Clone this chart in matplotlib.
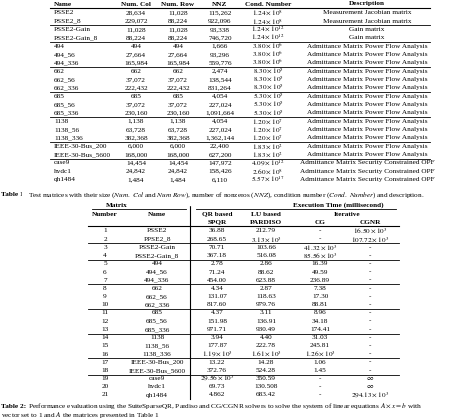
import matplotlib
matplotlib.use("Agg")
import matplotlib.pyplot as plt

plt.rcParams['font.family'] = ['Liberation Serif', 'DejaVu Serif']
plt.rcParams['mathtext.fontset'] = 'stix'

# ---- Table 1 data
names = ["PSSE2", "PSSE2_8", "PSSE2-Gain", "PSSE2-Gain_8", "494", "494_56", "494_336",
         "662", "662_56", "662_336", "685", "685_56", "685_336", "1138", "1138_56", "1138_336",
         "IEEE-30-Bus_200", "IEEE-30-Bus_5600", "case9", "hvdc1", "qh1484"]
num_col = ["28,634", "229,072", "11,028", "88,224", "494", "27,664", "165,984", "662", "37,072",
           "222,432", "685", "37,072", "230,160", "1,138", "63,728", "382,368", "6,000", "168,000",
           "14,454", "24,842", "1,484"]
num_row = ["11,028", "88,224", "11,028", "88,224", "494", "27,664", "165,984", "662", "37,072",
           "222,432", "685", "37,072", "230,160", "1,138", "63,728", "382,368", "6,000", "168,000",
           "14,454", "24,842", "1,484"]
nnz = ["115,262", "922,096", "93,338", "746,720", "1,666", "93,296", "559,776", "2,474", "138,544",
       "831,264", "4,054", "227,024", "1,091,664", "4,054", "227,024", "1,362,144", "22,400",
       "627,200", "147,972", "158,426", "6,110"]
cond = [r"1.24 \times 10^{8}", r"1.24 \times 10^{8}", r"1.24 \times 10^{12}", r"1.24 \times 10^{12}",
        r"3.80 \times 10^{6}", r"3.80 \times 10^{6}", r"3.80 \times 10^{6}",
        r"8.30 \times 10^{5}", r"8.30 \times 10^{5}", r"8.30 \times 10^{5}",
        r"5.30 \times 10^{5}", r"5.30 \times 10^{5}", r"5.30 \times 10^{5}",
        r"1.20 \times 10^{7}", r"1.20 \times 10^{7}", r"1.20 \times 10^{7}",
        r"1.83 \times 10^{2}", r"1.83 \times 10^{2}",
        r"4.09 \times 10^{12}", r"2.60 \times 10^{8}", r"5.57 \times 10^{17}"]
desc = (["Measurement Jacobian matrix"] * 2 + ["Gain matrix"] * 2
        + ["Admittance Matrix Power Flow Analysis"] * 14
        + ["Admittance Matrix Security Constrained OPF"] * 3)
groups = [2, 2, 3, 3, 3, 3, 2, 3]

# ---- Table 2 data
names2 = ["PSSE2", "PPSE2_8"] + names[2:]
spqr = ["36.88", "268.65", "70.71", "367.18", "2.78", "71.24", "454.00", "4.34", "131.07", "817.60",
        "4.37", "151.98", "971.71", "3.94", "177.87", r"$1.19 \times 10^{3}$", "13.22", "372.76",
        r"$29.56 \times 10^{3}$", "69.73", "4.862"]
pardiso = ["212.79", r"$3.13 \times 10^{3}$", "103.66", "516.08", "2.86", "88.62", "623.88", "2.87",
           "118.63", "979.76", "3.11", "136.91", "930.49", "4.40", "222.78", r"$1.61 \times 10^{3}$",
           "14.28", "524.28", "350.59", "130.508", "683.42"]
cg = ["-", "-", r"$41.32 \times 10^{3}$", r"$85.56 \times 10^{3}$", "16.39", "49.59", "236.89", "7.38",
      "17.30", "88.81", "8.96", "34.18", "174.41", "31.03", "245.81", r"$1.26 \times 10^{3}$", "1.06",
      "1.45", "-", "-", "-"]
cgnr = [r"$16.50 \times 10^{3}$", r"$107.72 \times 10^{3}$"] + ["-"] * 16 + \
       [r"$\infty$", r"$\infty$", r"$294.13 \times 10^{3}$"]

fig = plt.figure(figsize=(4.74, 4.18), dpi=100)
ax = fig.add_axes([0, 0, 1, 1])
ax.set_xlim(0, 474)
ax.set_ylim(418, 0)
ax.axis('off')
fs = 5.2


def t(x, y, s, ha='center', **kw):
    ax.text(x, y, s, ha=ha, va='center', fontsize=fs, **kw)


def hline(y, x0, x1, lw=0.8):
    ax.plot([x0, x1], [y, y], color='k', lw=lw)


# ---- Table 1
x0, x1 = 50, 430
for x, s, ha in [(54, "Name", 'left'), (136, "Num. Col", 'center'), (178, "Num. Row", 'center'),
                 (220, "NNZ", 'center'), (268, "Cond. Number", 'center'), (367, "Description", 'center')]:
    t(x, 4, s, ha=ha, fontweight='bold')
hline(8.3, x0, x1)
y0, dy = 12.7, 8.35
for i in range(len(names)):
    y = y0 + i * dy
    t(54, y, names[i], ha='left')
    t(136, y, num_col[i])
    t(178, y, num_row[i])
    t(220, y, nnz[i])
    t(268, y, "$" + cond[i] + "$")
    t(367, y, desc[i])
k = 0
for g in groups[:-1]:
    k += g
    hline(y0 + (k - 0.5) * dy, x0, x1, 0.6)

ax.text(1, 195, "Table 1:", fontsize=fs, fontweight='bold', va='center')
ax.text(28, 195, "Test matrices with their size (", fontsize=fs, va='center')
ax.text(26.5, 195, "", fontsize=fs)
ax.text(28, 195, "Test matrices with their size ($\\it{Num.\\ Col}$ and $\\it{Num\\ Row}$), number of nonzeros "
        "($\\it{NNZ}$), condition number ($\\it{Cond.\\ Number}$) and description.",
        fontsize=fs, va='center', backgroundcolor='white')

# ---- Table 2
a0, a1, vx = 88, 399, 190
hline(202, a0, a1)
t(117, 205.5, "Matrix", fontweight='bold')
t(338, 205.5, "Execution Time (millisecond)", fontweight='bold')
hline(209, 92, 186, 0.6)
hline(209, 196, 396, 0.6)
t(105, 214, "Number", fontweight='bold')
t(157, 214, "Name", fontweight='bold')
t(217, 214, "QR based", fontweight='bold')
t(266, 214, "LU based", fontweight='bold')
t(347, 214, "Iterative", fontweight='bold')
t(217, 222, "SPQR", fontweight='bold')
t(266, 222, "PARDISO", fontweight='bold')
t(320, 222, "CG", fontweight='bold')
t(370, 222, "CGNR", fontweight='bold')
hline(226, a0, a1)
z0, dz = 231, 8.2
for i in range(len(names2)):
    y = z0 + i * dz
    t(105, y, str(i + 1))
    t(157, y, names2[i])
    t(217, y, spqr[i])
    t(266, y, pardiso[i])
    t(320, y, cg[i])
    t(370, y, cgnr[i])
k = 0
for g in groups[:-1]:
    k += g
    hline(z0 + (k - 0.5) * dz, a0, a1, 0.6)
ax.plot([vx, vx], [202, z0 + 20.5 * dz], color='k', lw=0.8)

ax.text(1, 406, "Table 2:", fontsize=fs, fontweight='bold', va='center')
ax.text(28, 406, "Performance evaluation using the SuiteSparseQR, Pardiso and CG/CGNR solvers to solve "
        "the system of linear equations $A\\times x=b$ with", fontsize=fs, va='center')
ax.text(1, 415, "vector set to 1 and $A$ the matrices presented in Table 1", fontsize=fs, va='center')

fig.savefig("out.png", dpi=100)
